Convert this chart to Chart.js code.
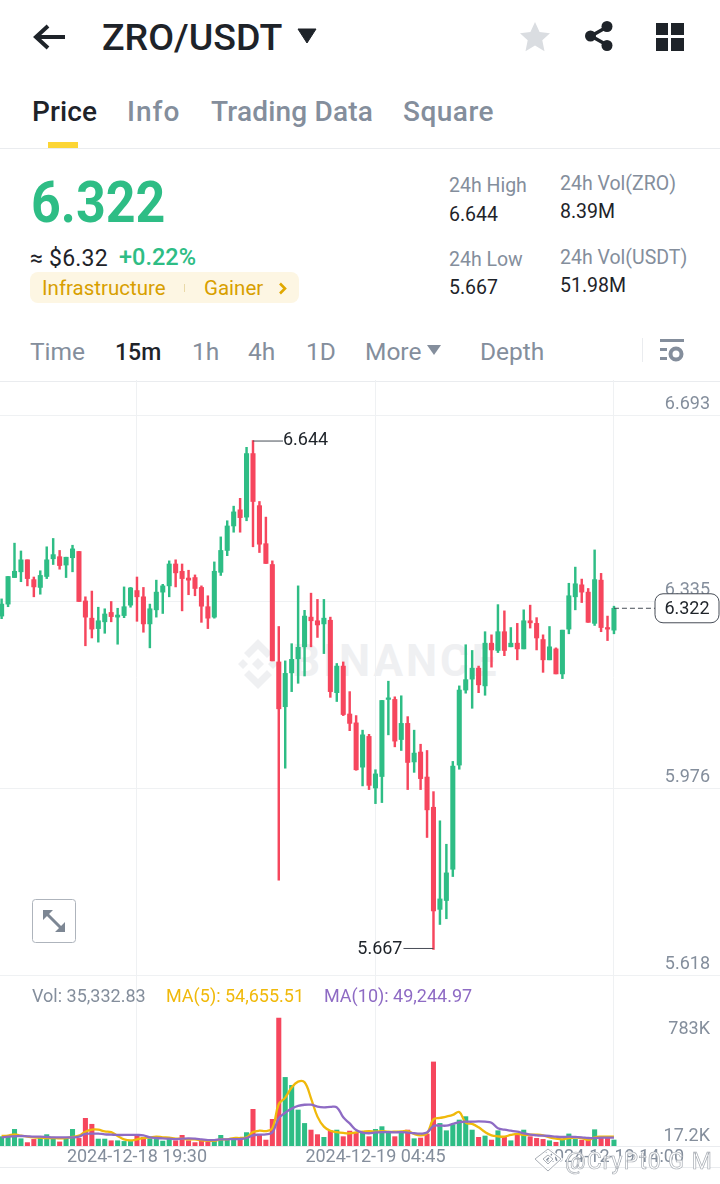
<!DOCTYPE html>
<html><head><meta charset="utf-8">
<script src="https://cdn.jsdelivr.net/npm/chart.js@4/dist/chart.umd.js"></script>
<style>
html,body{margin:0;padding:0;background:#fff;width:720px;height:1184px;overflow:hidden;font-family:Roboto,sans-serif}
.t{position:absolute;white-space:nowrap;transform:translateY(-50%);line-height:1}
.g{color:#848e9c}.d{color:#1e2329}
.l{position:absolute;background:#eaecef}
canvas{position:absolute;left:0}
svg{position:absolute}
</style></head><body>
<svg style="left:30px;top:20px" width="40" height="34" viewBox="0 0 40 34"><path d="M35 17H8M18 6 6 17l12 11" fill="none" stroke="#1e2329" stroke-width="4"/></svg>
<div class="t d" style="left:102px;top:38px;font-size:37.500px;font-weight:500">ZRO/USDT</div>
<svg style="left:297px;top:28px" width="20" height="16"><path d="M1 1h18l-9 14z" fill="#1e2329" stroke="#1e2329" stroke-linejoin="round"/></svg>
<svg style="left:519px;top:21px" width="32" height="32" viewBox="0 0 32 32"><path d="M16 1l4.600 10 10.400 1.200-7.700 7 2.200 11L16 24.600 6.500 30.200l2.200-11L1 12.200 11.400 11z" fill="#dadde1"/></svg>
<svg style="left:584px;top:20px" width="30" height="32" viewBox="0 0 30 32"><path d="M23 7 7 16l16 9" fill="none" stroke="#1e2329" stroke-width="3.500"/><circle cx="23" cy="6.500" r="5.500" fill="#1e2329"/><circle cx="6.500" cy="16" r="5.500" fill="#1e2329"/><circle cx="23" cy="25.500" r="5.500" fill="#1e2329"/></svg>
<svg style="left:656px;top:23px" width="28" height="28"><path d="M0 0h12v12H0zM15 0h13v12H15zM0 15h12v13H0zM15 15h13v13H15z" fill="#1e2329"/></svg>

<div class="t d" style="left:32px;top:112px;font-size:28px;font-weight:500;letter-spacing:.1px">Price</div>
<div class="t g" style="left:127px;top:112px;font-size:28px;font-weight:500;letter-spacing:1px">Info</div>
<div class="t g" style="left:211px;top:112px;font-size:28px;font-weight:500;letter-spacing:.2px">Trading Data</div>
<div class="t g" style="left:403px;top:112px;font-size:28px;font-weight:500;letter-spacing:.5px">Square</div>
<div style="position:absolute;left:48px;top:142px;width:30px;height:6px;background:#fcd535"></div>
<div class="l" style="left:0;top:148px;width:720px;height:1px"></div>

<div class="t" style="left:31px;top:203px;font-size:52px;font-weight:700;color:#2ebd85;transform:translateY(-50%) scaleY(1.1)">6.322</div>
<div class="t d" style="left:30px;top:258px;font-size:23px;letter-spacing:.2px">≈ $6.32</div>
<div class="t" style="left:119px;top:258px;font-size:23.500px;font-weight:500;color:#2ebd85">+0.22%</div>
<div style="position:absolute;left:30px;top:272px;width:269px;height:31px;border-radius:8px;background:#fdf6e3"></div>
<div class="t" style="left:42px;top:288px;font-size:20.500px;color:#d89f00">Infrastructure</div>
<div style="position:absolute;left:184px;top:284px;width:1px;height:8px;background:#e9d9a8"></div>
<div class="t" style="left:204px;top:288px;font-size:20.500px;color:#d89f00">Gainer</div>
<svg style="left:278px;top:282px" width="10" height="13"><path d="M2 1.500 7 6.500 2 11.500" fill="none" stroke="#e0a800" stroke-width="2.600"/></svg>

<div class="t g" style="left:449px;top:186px;font-size:19.500px">24h High</div>
<div class="t d" style="left:449px;top:215px;font-size:19.500px">6.644</div>
<div class="t g" style="left:560px;top:184px;font-size:19.500px">24h Vol(ZRO)</div>
<div class="t d" style="left:560px;top:212px;font-size:19.500px">8.39M</div>
<div class="t g" style="left:449px;top:260px;font-size:19.500px">24h Low</div>
<div class="t d" style="left:449px;top:288px;font-size:19.500px">5.667</div>
<div class="t g" style="left:560px;top:258px;font-size:19.500px">24h Vol(USDT)</div>
<div class="t d" style="left:560px;top:286px;font-size:19.500px">51.98M</div>

<div class="t g" style="left:30px;top:352px;font-size:24.500px">Time</div>
<div class="t d" style="left:115px;top:352px;font-size:23px;font-weight:500">15m</div>
<div class="t g" style="left:192px;top:352px;font-size:24.500px">1h</div>
<div class="t g" style="left:248px;top:352px;font-size:24.500px">4h</div>
<div class="t g" style="left:306px;top:352px;font-size:24.500px">1D</div>
<div class="t g" style="left:365px;top:352px;font-size:24.500px">More</div>
<svg style="left:427px;top:345px" width="14" height="11"><path d="M0 0h14L7 10z" fill="#848e9c"/></svg>
<div class="t g" style="left:480px;top:352px;font-size:24.500px">Depth</div>
<div class="l" style="left:642px;top:338px;width:1px;height:24px"></div>
<svg style="left:660px;top:338px" width="25" height="25"><path d="M0 1h24v3H0zM0 10h7v3H0zM0 19h7v3H0z" fill="#848e9c"/><circle cx="16" cy="16" r="5.500" fill="none" stroke="#848e9c" stroke-width="4"/></svg>

<div class="l" style="left:0;top:381px;width:720px;height:1px"></div>
<svg style="left:236px;top:638px" width="44" height="52" viewBox="0 0 44 52"><g fill="#eff0f2"><path d="M22 1 36 15l-5 5-9-9-9 9-5-5zM36 37 22 51 8 37l5-5 9 9 9-9zM2 26l5-5 5 5-5 5zM32 26l5-5 5 5-5 5zM22 20l6 6-6 6-6-6z"/></g></svg>
<div class="t" style="left:292px;top:661px;font-size:44px;font-weight:700;letter-spacing:3px;color:#eff0f2">BINANCE</div>

<canvas id="priceChart" style="top:380px" width="720" height="596"></canvas>
<canvas id="volChart" style="top:975px" width="720" height="193"></canvas>

<div class="t g" style="left:32px;top:996px;font-size:18px">Vol: 35,332.83</div>
<div class="t" style="left:166px;top:996px;font-size:18px;color:#f0b90b">MA(5): 54,655.51</div>
<div class="t" style="left:324px;top:996px;font-size:18px;color:#8e6bc4">MA(10): 49,244.97</div>

<svg style="left:32px;top:899px" width="44" height="44" viewBox="0 0 44 44"><rect x="0.500" y="0.500" width="43" height="43" rx="3" fill="#fff" stroke="#aeb4bc"/><path d="M14 14l16 16" stroke="#7d8794" stroke-width="3"/><path d="M11 11h10l-10 10zM33 33H23l10-10z" fill="#7d8794"/></svg>
<div class="l" style="left:0;top:1167px;width:720px;height:1px"></div>

<svg style="left:533px;top:1147px;z-index:3" width="30" height="26" viewBox="0 0 30 26"><g fill="none" stroke="#fff" stroke-width="3"><path d="M15 2 2 12l13 12 13-12zM15 8l-5 4 5 5 5-5z"/></g><g fill="none" stroke="#a9aeb5" stroke-width="1"><path d="M15 2 2 12l13 12 13-12zM15 8l-5 4 5 5 5-5z"/></g></svg>
<div class="t" id="wm" style="left:565px;top:1161px;font-size:23px;letter-spacing:1px;color:#fff;-webkit-text-stroke:0.700px #a9aeb5;z-index:3">@CryPt0 G M</div>

<script>
const opens=[6.307,6.330,6.381,6.392,6.415,6.377,6.362,6.383,6.417,6.421,6.405,6.419,6.431,6.336,6.303,6.283,6.296,6.314,6.305,6.308,6.328,6.356,6.344,6.292,6.319,6.353,6.365,6.407,6.393,6.380,6.381,6.362,6.325,6.305,6.391,6.433,6.480,6.511,6.497,6.619,6.519,6.446,6.406,6.219,6.133,6.198,6.225,6.248,6.305,6.298,6.292,6.299,6.160,6.211,6.119,6.102,6.017,6.076,5.977,5.999,6.147,6.147,6.070,6.101,6.027,6.046,5.998,5.940,5.744,5.761,5.821,6.021,6.165,6.186,6.207,6.173,6.255,6.241,6.277,6.248,6.255,6.244,6.298,6.293,6.262,6.223,6.244,6.196,6.282,6.344,6.367,6.353,6.293,6.376,6.285,6.280];
const highs=[6.340,6.383,6.447,6.432,6.415,6.382,6.394,6.440,6.456,6.433,6.420,6.443,6.431,6.344,6.355,6.324,6.321,6.335,6.322,6.363,6.362,6.382,6.362,6.330,6.376,6.368,6.413,6.415,6.407,6.395,6.386,6.365,6.346,6.411,6.459,6.490,6.518,6.533,6.631,6.644,6.527,6.497,6.413,6.287,6.221,6.254,6.365,6.318,6.351,6.339,6.339,6.305,6.216,6.219,6.162,6.116,6.088,6.080,6.012,6.145,6.182,6.152,6.154,6.114,6.088,6.061,6.049,5.970,5.914,5.869,6.028,6.173,6.252,6.241,6.211,6.277,6.271,6.329,6.317,6.285,6.293,6.319,6.328,6.304,6.271,6.287,6.246,6.280,6.370,6.401,6.378,6.360,6.434,6.389,6.307,6.326];
const lows=[6.302,6.325,6.381,6.373,6.365,6.344,6.349,6.379,6.406,6.397,6.381,6.392,6.335,6.250,6.265,6.257,6.274,6.296,6.253,6.304,6.324,6.297,6.276,6.246,6.305,6.312,6.344,6.363,6.317,6.348,6.346,6.295,6.283,6.303,6.385,6.423,6.468,6.468,6.490,6.440,6.429,6.408,6.221,5.800,6.015,6.162,6.178,6.192,6.248,6.266,6.235,6.151,6.143,6.116,6.087,6.011,5.981,5.974,5.947,5.949,6.079,6.056,6.049,5.974,6.007,5.974,5.882,5.667,5.715,5.726,5.807,6.013,6.159,6.130,6.160,6.155,6.209,6.237,6.231,6.248,6.223,6.244,6.284,6.242,6.199,6.223,6.196,6.187,6.273,6.319,6.333,6.295,6.289,6.277,6.260,6.273];
const closes=[6.330,6.383,6.393,6.415,6.379,6.363,6.385,6.415,6.425,6.404,6.420,6.436,6.335,6.305,6.282,6.298,6.311,6.306,6.309,6.325,6.361,6.344,6.292,6.321,6.353,6.365,6.407,6.390,6.379,6.376,6.360,6.326,6.303,6.393,6.433,6.480,6.507,6.496,6.619,6.527,6.445,6.408,6.221,6.129,6.197,6.224,6.247,6.307,6.298,6.290,6.303,6.162,6.211,6.118,6.101,6.012,6.079,5.982,6.004,6.145,6.150,6.067,6.101,6.026,6.044,5.995,5.935,5.741,5.764,5.814,6.019,6.165,6.185,6.207,6.175,6.255,6.242,6.277,6.241,6.255,6.244,6.298,6.294,6.265,6.223,6.248,6.196,6.280,6.346,6.369,6.353,6.295,6.377,6.285,6.282,6.322];
const volumes=[55,51,98,43,20,39,45,67,43,24,43,98,45,163,128,41,41,31,31,27,27,63,51,43,39,29,43,31,63,31,20,35,26,27,63,39,39,39,79,216,63,35,157,754,404,357,212,133,94,67,51,90,94,55,88,75,79,55,98,114,79,55,82,94,43,47,71,495,133,90,126,153,173,94,51,59,35,90,51,31,71,94,55,45,39,31,22,35,71,39,35,35,96,45,45,35.33];
const ma5=[59,61,69,61,55,51,49,47,47,45,47,53,61,84,96,96,86,82,59,39,33,39,47,51,55,51,49,43,43,39,39,33,31,31,39,39,47,47,51,82,90,88,104,247,285,345,379,375,281,173,114,90,82,77,75,80,84,88,84,88,84,84,86,88,71,63,75,157,165,173,183,200,137,130,110,82,63,57,55,65,71,65,67,67,63,51,43,39,47,49,47,35,51,55,55,54.66];
const ma10=[51,55,57,59,57,55,55,53,51,51,51,51,55,71,73,73,69,67,65,65,65,65,63,51,47,45,43,41,43,45,43,39,35,35,39,39,41,41,47,63,67,69,79,163,196,220,236,243,243,232,228,230,228,169,133,94,79,75,80,82,82,80,82,79,75,73,79,118,120,120,130,141,143,143,145,143,137,104,96,90,84,75,67,63,61,59,55,53,55,53,51,47,47,49,49,49.24];
const priceTicks=[5.618,5.976,6.335,6.693];
const timeTickIndex=[21,58,95];
const timeTickLabels=['2024-12-18 19:30','2024-12-19 04:45','2024-12-19 14:00'];
const volTopTick=[783];
const volBottomTick=[17.2];
const highMark={index:39,value:6.644};
const lowMark={index:67,value:5.667};
const lastPrice={index:95,value:6.322};

const GREEN='#2ebd85',RED='#f6465d',GRID='#eff1f3',AXIS='#848e9c',DARK='#1e2329';
const X_MIN=-0.25,X_MAX=111.45;
Chart.defaults.font.family='Roboto';
Chart.defaults.font.size=18;
Chart.defaults.animation=false;
const idx=opens.map((_,i)=>i);
const isUp=i=>closes[i]>=opens[i];
const colors=idx.map(i=>isUp(i)?GREEN:RED);
const flatY=s=>{s.width=0;s.paddingTop=0;s.paddingBottom=0;s.paddingLeft=0;s.paddingRight=0;};

const xBase={type:'linear',min:X_MIN,max:X_MAX,offset:false,
  afterBuildTicks:s=>{s.ticks=timeTickIndex.map(v=>({value:v}));},
  border:{display:false},grid:{color:GRID,lineWidth:1,drawTicks:false,offset:false}};

const marks={id:'marks',afterDraw(c){
  const g=c.ctx,x=c.scales.x,y=c.scales.y;
  g.save();
  g.font='18px Roboto';g.textBaseline='middle';
  g.strokeStyle='#474d57';g.lineWidth=1;g.fillStyle=DARK;
  let px=x.getPixelForValue(highMark.index),py=y.getPixelForValue(highMark.value);
  g.beginPath();g.moveTo(px,py+.5);g.lineTo(px+30,py+.5);g.stroke();
  g.textAlign='left';g.fillText(highMark.value.toFixed(3),px+30,py);
  px=x.getPixelForValue(lowMark.index);py=y.getPixelForValue(lowMark.value);
  g.beginPath();g.moveTo(px,py-1);g.lineTo(px-30,py-1);g.stroke();
  g.textAlign='right';g.fillText(lowMark.value.toFixed(3),px-31,py);
  px=x.getPixelForValue(lastPrice.index);py=y.getPixelForValue(lastPrice.value);
  g.setLineDash([5,3]);g.beginPath();g.moveTo(px,py);g.lineTo(655,py);g.stroke();g.setLineDash([]);
  g.beginPath();g.roundRect(655,py-14.500,64,29,8);g.fillStyle='#fff';g.fill();g.stroke();
  g.fillStyle=DARK;g.textAlign='center';g.fillText(lastPrice.value.toFixed(3),687,py+1);
  g.restore();
}};

new Chart(document.getElementById('priceChart'),{
  type:'bar',
  data:{datasets:[
    {data:idx.map(i=>({x:i,y:[lows[i],highs[i]]})),backgroundColor:colors,barThickness:1.800,grouped:false,order:2},
    {data:idx.map(i=>({x:i,y:[Math.min(opens[i],closes[i]),Math.max(opens[i],closes[i])]})),backgroundColor:colors,barThickness:4.400,minBarLength:1.500,grouped:false,order:1}
  ]},
  options:{responsive:false,maintainAspectRatio:false,
    layout:{autoPadding:false,padding:{left:0,right:0,top:0,bottom:1}},
    plugins:{legend:{display:false},tooltip:{enabled:false}},
    scales:{
      x:{...xBase,afterFit:s=>{s.height=0;s.paddingLeft=0;s.paddingRight=0;},ticks:{display:false}},
      y:{position:'right',min:5.618,max:6.7602,afterFit:flatY,
        afterBuildTicks:s=>{s.ticks=priceTicks.map(v=>({value:v}));},
        border:{display:false},grid:{color:GRID,drawTicks:false},
        ticks:{mirror:true,padding:-10,labelOffset:-11,color:AXIS,font:{size:18},callback:v=>v.toFixed(3)}}
    }},
  plugins:[marks]
});

new Chart(document.getElementById('volChart'),{
  data:{datasets:[
    {type:'line',data:idx.map(i=>({x:i,y:ma10[i]})),borderColor:'#8e6bc4',borderWidth:2.300,pointRadius:0,tension:.4,order:1},
    {type:'line',data:idx.map(i=>({x:i,y:ma5[i]})),borderColor:'#f0b90b',borderWidth:2.300,pointRadius:0,tension:.4,order:2},
    {type:'bar',data:idx.map(i=>({x:i,y:volumes[i]})),backgroundColor:colors,barThickness:4.400,order:3}
  ]},
  options:{responsive:false,maintainAspectRatio:false,
    layout:{autoPadding:false,padding:0},
    plugins:{legend:{display:false},tooltip:{enabled:false}},
    scales:{
      x:{...xBase,position:'bottom',
        border:{display:true,color:'#eaecef',width:1},
        afterFit:s=>{s.height=22;s.paddingLeft=0;s.paddingRight=0;},
        ticks:{autoSkip:false,maxRotation:0,padding:1,color:AXIS,font:{size:18},
          callback:v=>timeTickLabels[timeTickIndex.indexOf(v)]}},
      y:{position:'right',min:0,max:1007,afterFit:flatY,
        afterBuildTicks:s=>{s.ticks=volTopTick.map(v=>({value:v}));},
        border:{display:false},grid:{display:false,drawTicks:false},
        ticks:{mirror:true,padding:-10,labelOffset:16,color:AXIS,font:{size:18},callback:v=>v+'K'}},
      y2:{position:'right',min:0,max:1007,afterFit:flatY,
        afterBuildTicks:s=>{s.ticks=volBottomTick.map(v=>({value:v}));},
        border:{display:false},grid:{display:false,drawTicks:false},
        ticks:{mirror:true,padding:-10,labelOffset:-7,color:AXIS,font:{size:18},callback:v=>v+'K'}}
    }}
});
</script>
</body></html>
